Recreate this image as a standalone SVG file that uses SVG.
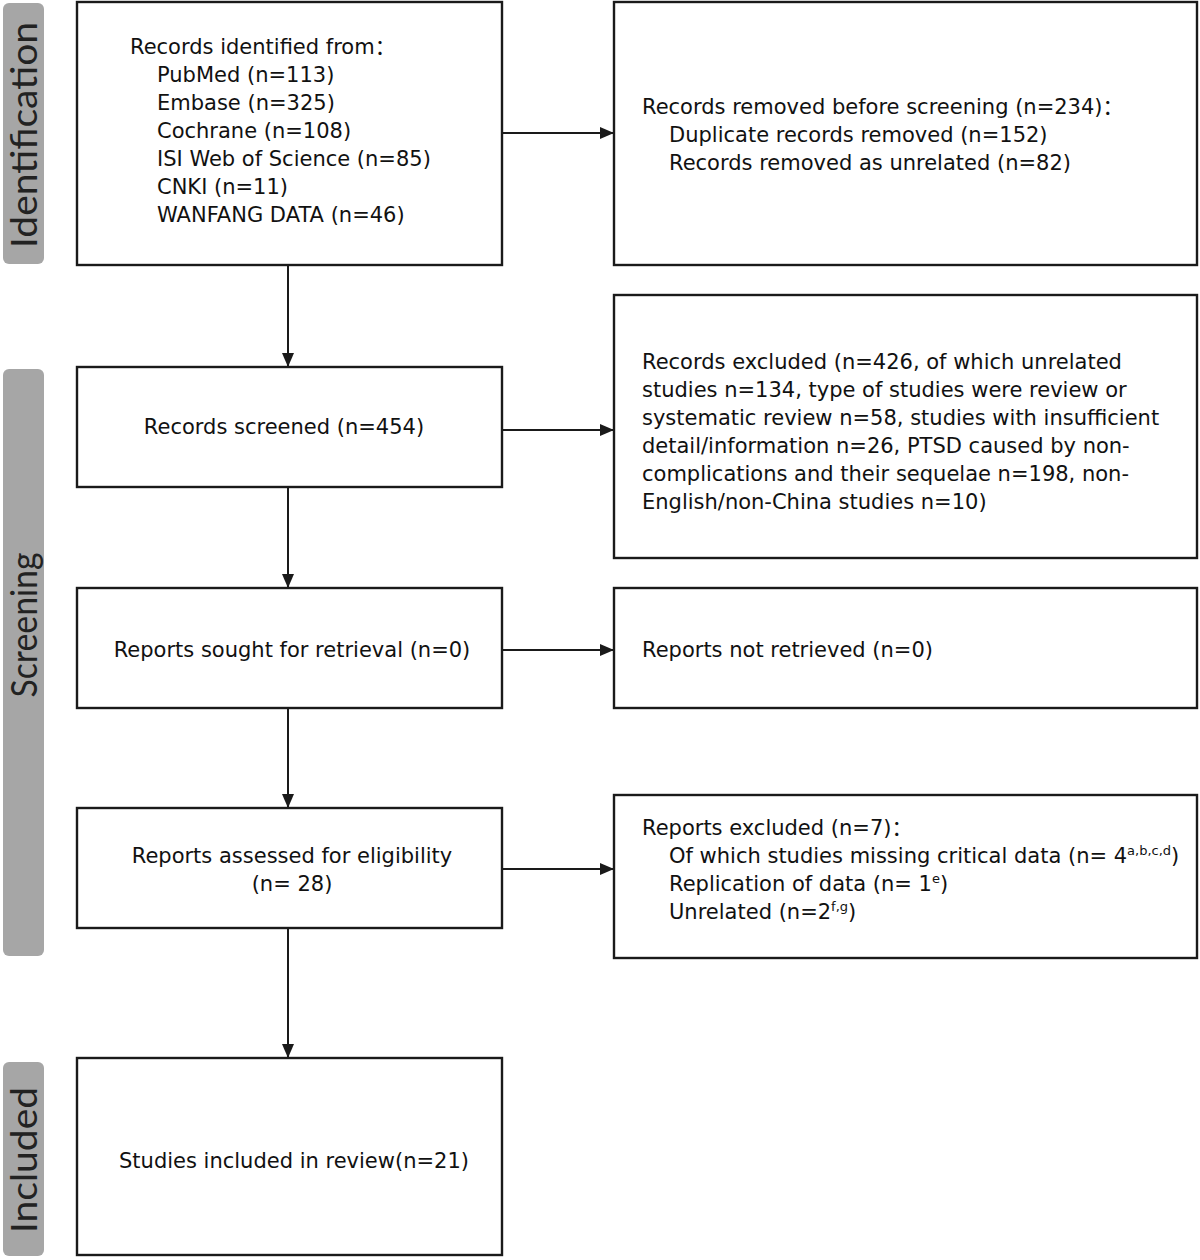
<svg xmlns="http://www.w3.org/2000/svg" width="1200" height="1260" viewBox="0 0 1200 1260">
<style>
.bx{fill:#fff;stroke:#1a1a1a;stroke-width:2.4}
.side{fill:#a6a6a6}
.sl{font-family:Lato,"Open Sans","Liberation Sans",sans-serif;font-size:36px;fill:#222}
.t{font-family:"DejaVu Sans","Liberation Sans","Noto Sans CJK SC",sans-serif;font-size:21px;fill:#111}
.c{text-anchor:middle}
.cn{stroke:#1a1a1a;stroke-width:2;fill:none}
.sup{font-size:13px}
</style>
<defs>
<marker id="ah" markerWidth="14" markerHeight="12" refX="14" refY="6" orient="auto" markerUnits="userSpaceOnUse">
<path d="M0,0 L14,6 L0,12 Z" fill="#1a1a1a"/>
</marker>
</defs>
<rect width="1200" height="1260" fill="#fff"/>
<g id="phase-identification">
<rect class="side" x="3" y="3" width="41" height="261" rx="6"/>
<text class="sl c" transform="translate(37,135) rotate(-90)" textLength="226" lengthAdjust="spacingAndGlyphs">Identification</text>
</g>
<g id="phase-screening">
<rect class="side" x="3" y="369" width="41" height="587" rx="6"/>
<text class="sl c" transform="translate(37,625) rotate(-90)" textLength="145" lengthAdjust="spacingAndGlyphs">Screening</text>
</g>
<g id="phase-included">
<rect class="side" x="3" y="1062" width="41" height="194" rx="6"/>
<text class="sl c" transform="translate(37,1160) rotate(-90)" textLength="146" lengthAdjust="spacingAndGlyphs">Included</text>
</g>
<g id="connectors">
<line class="cn" x1="288" y1="265" x2="288" y2="367" marker-end="url(#ah)"/>
<line class="cn" x1="288" y1="487" x2="288" y2="588" marker-end="url(#ah)"/>
<line class="cn" x1="288" y1="708" x2="288" y2="808" marker-end="url(#ah)"/>
<line class="cn" x1="288" y1="928" x2="288" y2="1058" marker-end="url(#ah)"/>
<line class="cn" x1="502" y1="133" x2="614" y2="133" marker-end="url(#ah)"/>
<line class="cn" x1="502" y1="430" x2="614" y2="430" marker-end="url(#ah)"/>
<line class="cn" x1="502" y1="650" x2="614" y2="650" marker-end="url(#ah)"/>
<line class="cn" x1="502" y1="869" x2="614" y2="869" marker-end="url(#ah)"/>
</g>
<g id="records-identified">
<rect class="bx" x="77" y="2" width="425" height="263"/>
<text class="t" x="130" y="54">Records identified from：</text>
<text class="t" x="157" y="82">PubMed (n=113)</text>
<text class="t" x="157" y="110">Embase (n=325)</text>
<text class="t" x="157" y="138">Cochrane (n=108)</text>
<text class="t" x="157" y="166">ISI Web of Science (n=85)</text>
<text class="t" x="157" y="194">CNKI (n=11)</text>
<text class="t" x="157" y="222">WANFANG DATA (n=46)</text>
</g>
<g id="records-removed">
<rect class="bx" x="614" y="2" width="583" height="263"/>
<text class="t" x="642" y="114">Records removed before screening (n=234)：</text>
<text class="t" x="669" y="142">Duplicate records removed (n=152)</text>
<text class="t" x="669" y="170">Records removed as unrelated (n=82)</text>
</g>
<g id="records-screened">
<rect class="bx" x="77" y="367" width="425" height="120"/>
<text class="t c" x="284" y="434">Records screened (n=454)</text>
</g>
<g id="records-excluded">
<rect class="bx" x="614" y="295" width="583" height="263"/>
<text class="t" x="642" y="369">Records excluded (n=426, of which unrelated</text>
<text class="t" x="642" y="397">studies n=134, type of studies were review or</text>
<text class="t" x="642" y="425">systematic review n=58, studies with insufficient</text>
<text class="t" x="642" y="453">detail/information n=26, PTSD caused by non-</text>
<text class="t" x="642" y="481">complications and their sequelae n=198, non-</text>
<text class="t" x="642" y="509">English/non-China studies n=10)</text>
</g>
<g id="reports-sought">
<rect class="bx" x="77" y="588" width="425" height="120"/>
<text class="t c" x="292" y="657">Reports sought for retrieval (n=0)</text>
</g>
<g id="reports-not-retrieved">
<rect class="bx" x="614" y="588" width="583" height="120"/>
<text class="t" x="642" y="657">Reports not retrieved (n=0)</text>
</g>
<g id="reports-assessed">
<rect class="bx" x="77" y="808" width="425" height="120"/>
<text class="t c" x="292" y="863">Reports assessed for eligibility</text>
<text class="t c" x="292" y="891">(n= 28)</text>
</g>
<g id="reports-excluded">
<rect class="bx" x="614" y="795" width="583" height="163"/>
<text class="t" x="642" y="835">Reports excluded (n=7)：</text>
<text class="t" x="669" y="863">Of which studies missing critical data (n= 4<tspan class="sup" dy="-8">a,b,c,d</tspan><tspan dy="8">)</tspan></text>
<text class="t" x="669" y="891">Replication of data (n= 1<tspan class="sup" dy="-8">e</tspan><tspan dy="8">)</tspan></text>
<text class="t" x="669" y="919">Unrelated (n=2<tspan class="sup" dy="-8">f,g</tspan><tspan dy="8">)</tspan></text>
</g>
<g id="studies-included">
<rect class="bx" x="77" y="1058" width="425" height="197"/>
<text class="t c" x="294" y="1168">Studies included in review(n=21)</text>
</g>
</svg>
